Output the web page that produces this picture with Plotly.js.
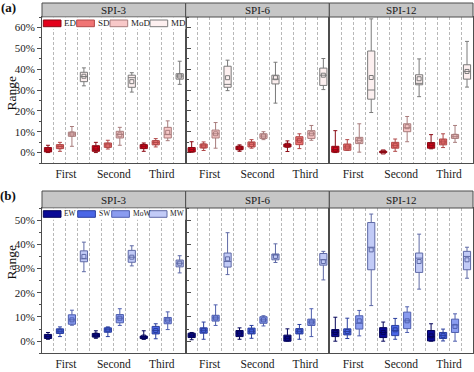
<!DOCTYPE html>
<html><head><meta charset="utf-8">
<script src="https://cdn.plot.ly/plotly-3.0.1.min.js"></script>
<style>html,body{margin:0;padding:0;background:#fff}#chart{width:474px;height:372px}</style>
</head><body><div id="chart"></div>
<script>
const groups = ['First', 'Second', 'Third'];
const panels = ['SPI-3', 'SPI-6', 'SPI-12'];
const droughtSeries = ['ED', 'SD', 'MoD', 'MD'];
const wetSeries = ['EW', 'SW', 'MoW', 'MW'];

// values in %, indexed [panel][series][group]
const dLow  = [[[0,0,0.6],[0.6,1.7,2.7],[3.0,3.5,5.7],[32,29,32.7]],
               [[0.2,0.6,0.5],[1.0,2.1,1.9],[2.1,6.2,5.9],[29.7,23.7,30.2]],
               [[0,0,1.8],[1.0,0.6,2.4],[0.2,5.2,4.9],[19.2,26.8,31.4]]];
const dQ1   = [[[0.3,0.6,1.9],[1.9,2.5,3.7],[7.8,7.0,7.0],[34,31.3,35.2]],
               [[0.3,1.4,2.7],[2.2,2.7,3.8],[7.0,6.8,6.8],[31.3,32.9,32.2]],
               [[0.2,0,2.1],[1.1,2.1,3.7],[4.3,10.0,6.8],[25.6,32.5,35.2]]];
const dMed  = [[[1.3,1.7,3.0],[2.9,3.7,4.8],[8.9,8.7,8.6],[36.5,35.9,36.7]],
               [[1.4,2.2,3.5],[3.2,4.0,5.9],[9.0,7.9,9.0],[32.7,35.2,37.1]],
               [[1.4,0.3,3.5],[2.7,3.5,5.1],[5.9,11.9,7.8],[30.0,33.2,38.9]]];
const dQ3   = [[[2.4,3.3,3.8],[3.8,4.6,5.7],[9.8,10.2,12.1],[38.5,37.1,37.8]],
               [[2.4,3.0,4.1],[4.1,5.1,7.6],[10.8,9.0,10.5],[41.4,37.1,40.5]],
               [[3.0,0.6,4.8],[4.1,4.9,6.5],[7.3,13.8,8.7],[48.7,37.3,42.1]]];
const dHigh = [[[3.5,4.9,4.6],[4.9,5.9,6.7],[12.5,12.1,15.2],[40.6,38.3,43.8]],
               [[5.2,3.7,5.6],[5.1,6.2,9.0],[14.4,10.0,13.0],[44.3,43.3,45.1]],
               [[10.5,0.8,8.6],[6.2,6.5,9.0],[13.8,17.3,13.0],[64.1,44.9,53.3]]];
const dMean = [[[1.3,1.9,3.0],[2.8,3.5,4.8],[8.9,8.5,9.7],[36.6,34.0,36.7]],
               [[1.4,2.2,3.5],[3.2,3.9,5.9],[9.0,7.9,9.0],[35.9,35.9,37.1]],
               [[1.6,0.3,3.5],[2.7,3.5,5.1],[5.9,12.4,7.8],[36.0,35.4,38.9]]];

const wLow  = [[[0.8,1.2,0.8],[1.9,1.9,1.0],[6.6,6.5,4.8],[28.7,31.1,28.2]],
               [[0.6,0.8,0],[0.8,1.2,0.8],[6.5,6.3,1.9],[27.5,32.5,25.3]],
               [[0,0,0],[1.1,0.8,0.1],[2.2,3.6,0],[14.7,21.5,26.0]]];
const wQ1   = [[[1.1,1.7,1.1],[3.2,3.7,3.0],[7.0,7.6,7.2],[32.8,32.6,30.7]],
               [[1.5,1.9,0],[3.3,3.0,3.0],[8.3,7.4,6.5],[30.6,33.6,31.4]],
               [[1.9,1.5,0.1],[2.6,2.3,1.1],[5.0,5.2,3.6],[29.5,28.4,29.5]]];
const wMed  = [[[1.9,2.5,1.7],[4.1,4.7,4.4],[8.8,9.5,8.7],[34.0,34.7,32.2]],
               [[2.5,3.3,1.2],[4.5,4.1,4.1],[9.6,8.8,7.9],[32.9,35.7,33.6]],
               [[3.6,3.6,1.9],[4.0,4.4,2.3],[7.4,8.4,6.7],[38.8,34.3,35.0]]];
const wQ3   = [[[2.8,3.2,2.1],[5.1,5.5,6.1],[10.9,11.0,9.8],[37.3,37.5,33.5]],
               [[3.3,4.4,2.5],[5.5,5.4,5.2],[10.7,10.1,9.1],[36.4,36.0,36.2]],
               [[4.8,5.6,4.4],[5.1,6.5,3.6],[10.5,12.0,9.1],[49.0,36.4,37.1]]];
const wHigh = [[[3.6,4.3,4.3],[5.9,5.9,7.2],[12.8,13.4,12.1],[40.9,39.4,35.3]],
               [[3.6,5.5,5.1],[7.9,6.5,6.9],[15.0,10.5,13.4],[44.8,40.2,37.1]],
               [[9.9,7.9,7.2],[9.5,9.4,5.0],[12.7,14.2,11.3],[52.5,44.2,38.8]]];
const wMean = [[[1.9,2.5,1.7],[4.1,4.7,4.4],[8.8,9.5,8.7],[35.0,34.7,32.2]],
               [[2.5,3.3,1.2],[4.5,4.1,4.1],[9.6,8.8,7.9],[34.0,35.0,32.9]],
               [[3.6,3.6,2.2],[4.0,4.7,2.3],[8.4,8.4,6.1],[37.7,32.9,33.6]]];

const dFill = ['#e3001b', '#f07474', '#f8c8c8', '#fdf0f0'];
const dLine = ['#8b0a14', '#b04848', '#a87c7c', '#7a7a7a'];
const wFill = ['#0a0a96', '#4a66e6', '#8a9cf0', '#c2cbf7'];
const wLine = ['#05055a', '#2b3f9e', '#4f5fae', '#5f6aa6'];

const aTicks = [0, 10, 20, 30, 40, 50, 60];
const bTicks = [0, 10, 20, 30, 40, 50];

// ---------- layout geometry (pixels) ----------
const W = 474, H = 372, L = 42, R = 1;
const plotW = W - L - R;
const panelW = plotW / 3;
const fx = px => (px - L) / panelW;      // x-domain fraction of first panel
const px2paper = px => (px - L) / plotW;
const py = p => (H - p) / H;             // paper y from pixel y
const SERIF = '"Liberation Serif", "Times New Roman", Times, serif';
const FRAME = '#4d4d4d';
const grid = {gridcolor: '#b8b8b8', griddash: '3px,2px', gridwidth: 1};

const rows = [
  {series: droughtSeries, low: dLow, q1: dQ1, med: dMed, q3: dQ3, high: dHigh, mean: dMean,
   fill: dFill, line: dLine, ticks: aTicks, yrange: [-5, 65], top: 17, bottom: 163,
   band: [3, 17], tag: '(a)', tagY: 8, rangeY: 93, legY: [20, 26.7], legX: [43.3, 76.7, 110, 150], legFont: 9, divLen: 20},
  {series: wetSeries, low: wLow, q1: wQ1, med: wMed, q3: wQ3, high: wHigh, mean: wMean,
   fill: wFill, line: wLine, ticks: bTicks, yrange: [-5, 55], top: 208, bottom: 353.3,
   band: [191, 208], tag: '(b)', tagY: 195, rangeY: 262, legY: [210.7, 217.3], legX: [43.3, 77.7, 111.7, 149.3], legFont: 7.5, divLen: 19}
];

const data = [];
const layout = {
  width: W, height: H, margin: {l: L, r: R, t: 0, b: 0},
  paper_bgcolor: '#fff', plot_bgcolor: '#fff', showlegend: false,
  font: {family: SERIF, color: '#1a1a1a'},
  shapes: [], annotations: []
};

rows.forEach((row, r) => {
  const yName = r === 0 ? 'y' : 'y2';
  const yKey = r === 0 ? 'yaxis' : 'yaxis2';
  const firstX = r * 3 + 1;
  layout[yKey] = {
    domain: [py(row.bottom), py(row.top)], anchor: firstX === 1 ? 'x' : 'x' + firstX,
    range: row.yrange, tickmode: 'array', tickvals: row.ticks, ticktext: row.ticks.map(t => t + '%'),
    ticks: 'outside', ticklen: 4, tickcolor: FRAME,
    minor: {tickmode: 'linear', tick0: 0, dtick: 5, ticks: 'outside', ticklen: 2, tickcolor: FRAME},
    showline: true, linecolor: FRAME, linewidth: 1, mirror: 'all',
    showgrid: false, zeroline: false, fixedrange: true,
    tickfont: {family: SERIF, size: 11, color: '#1a1a1a'}
  };
  panels.forEach((pname, p) => {
    const idx = r * 3 + p + 1;
    const xName = idx === 1 ? 'x' : 'x' + idx;
    const xKey = idx === 1 ? 'xaxis' : 'xaxis' + idx;
    layout[xKey] = {
      domain: [p / 3, (p + 1) / 3], anchor: yName, range: [0, 12],
      tickmode: 'array', tickvals: [2, 6, 10], ticktext: groups, ticks: '',
      showgrid: true, ...grid,
      minor: {tickmode: 'linear', tick0: 0, dtick: 1, showgrid: true, ...grid},
      showline: true, linecolor: FRAME, linewidth: 1, mirror: true,
      zeroline: false, fixedrange: true,
      tickfont: {family: SERIF, size: 11.5, color: '#1a1a1a'}
    };
    // overlay axis: group dividers in the label row
    const oIdx = idx + 6;
    layout['xaxis' + oIdx] = {
      overlaying: xName, anchor: yName, range: [0, 12], side: 'bottom',
      tickmode: 'array', tickvals: [0, 4, 8, 12], ticks: 'outside', ticklen: row.divLen,
      tickwidth: 1, tickcolor: FRAME, showticklabels: false,
      showgrid: false, showline: false, zeroline: false, fixedrange: true
    };
    // header strip
    layout.shapes.push({type: 'rect', xref: xName + ' domain', yref: 'paper',
      x0: 0, x1: 1, y0: py(row.band[1]), y1: py(row.band[0]),
      fillcolor: '#c6c6c6', line: {color: FRAME, width: 1}, layer: 'above'});
    layout.annotations.push({xref: xName + ' domain', yref: 'paper', x: 0.5,
      y: py((row.band[0] + row.band[1]) / 2), text: pname, showarrow: false,
      xanchor: 'center', yanchor: 'middle', font: {family: SERIF, size: 11, color: '#1a1a1a'}});

    row.series.forEach((sname, s) => {
      const xs = groups.map((g, gi) => gi * 4 + s + 0.5);
      data.push({
        type: 'box', name: sname, x: xs,
        q1: row.q1[p][s], median: row.med[p][s], q3: row.q3[p][s],
        lowerfence: row.low[p][s], upperfence: row.high[p][s],
        xaxis: xName, yaxis: yName, width: 0.6, whiskerwidth: 0.55,
        fillcolor: row.fill[s], line: {color: row.line[s], width: 1},
        boxpoints: false, hoverinfo: 'skip', showlegend: false
      });
      data.push({
        type: 'scatter', mode: 'markers', x: xs, y: row.mean[p][s],
        xaxis: xName, yaxis: yName, hoverinfo: 'skip', showlegend: false,
        marker: {symbol: 'square-open', size: 4, color: row.line[s], line: {width: 1, color: row.line[s]}}
      });
    });
  });

  // legend (drawn inside the first panel of the row)
  const xRef = (firstX === 1 ? 'x' : 'x' + firstX) + ' domain';
  layout.shapes.push({type: 'rect', xref: xRef, yref: 'paper', x0: fx(42.6), x1: fx(185.4),
    y0: py(row.legY[1] + 2.5), y1: py(row.top + 0.6), fillcolor: '#fff', line: {width: 0}, layer: 'above'});
  row.series.forEach((sname, s) => {
    const x0 = row.legX[s];
    layout.shapes.push({type: 'rect', xref: xRef, yref: 'paper', x0: fx(x0), x1: fx(x0 + 17.7),
      y0: py(row.legY[1]), y1: py(row.legY[0]), fillcolor: row.fill[s],
      line: {color: row.line[s], width: 1}, layer: 'above'});
    layout.annotations.push({xref: xRef, yref: 'paper', x: fx(x0 + 19), y: py((row.legY[0] + row.legY[1]) / 2),
      text: sname, showarrow: false, xanchor: 'left', yanchor: 'middle',
      font: {family: SERIF, size: row.legFont, color: '#1a1a1a'}});
  });

  layout.annotations.push({xref: 'paper', yref: 'paper', x: px2paper(8), y: py(row.tagY),
    text: '<b>' + row.tag + '</b>', showarrow: false, xanchor: 'center', yanchor: 'middle',
    font: {family: SERIF, size: 13, color: '#111'}});
  layout.annotations.push({xref: 'paper', yref: 'paper', x: px2paper(10.5), y: py(row.rangeY),
    text: 'Range', textangle: -90, showarrow: false, xanchor: 'center', yanchor: 'middle',
    font: {family: SERIF, size: 13.5, color: '#111'}});
});

Plotly.newPlot('chart', data, layout, {displayModeBar: false, staticPlot: true});
</script>
</body></html>
